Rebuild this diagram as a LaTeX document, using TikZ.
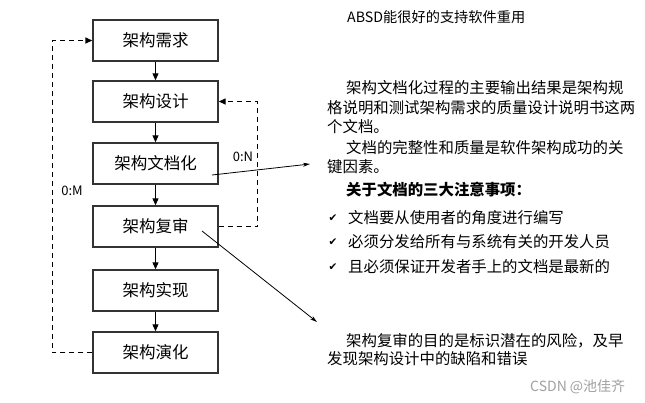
\documentclass[tikz,border=0pt]{standalone}
\usepackage{fontspec}
\setmainfont{Noto Sans CJK SC}
\newfontfamily\cjk{Noto Sans CJK SC}
\newfontfamily\symf{DejaVu Sans}
\usetikzlibrary{arrows.meta}
\definecolor{boxline}{HTML}{333333}
\definecolor{wm}{HTML}{A0A0A0}
\tikzset{
  stagebox/.style={draw=boxline, line width=1.4pt, minimum width=125pt, minimum height=41pt, inner sep=0pt, font=\cjk\fontsize{16.5}{18}\selectfont},
  flowarrow/.style={line width=1pt, -{Triangle[length=7pt,width=6pt]}},
  loopline/.style={line width=1.4pt, dash pattern=on 5pt off 4pt, -{Triangle[length=7pt,width=6pt]}},
  notearrow/.style={line width=0.8pt, -{Stealth[length=7pt,width=4pt]}},
  txt/.style={anchor=west, inner sep=0pt, font=\cjk\fontsize{15.4}{18}\selectfont},
  lbl/.style={inner sep=0pt, font=\cjk\fontsize{13}{15}\selectfont},
  chk/.style={inner sep=0pt, font=\symf\fontsize{10.5}{14}\selectfont}
}
\begin{document}
\begin{tikzpicture}[x=1pt,y=-1pt]
\useasboundingbox (0,0) rectangle (645,402);
% stages
\node[stagebox] (b1) at (155.5,40.5) {架构需求};
\node[stagebox] (b2) at (155.5,101.5) {架构设计};
\node[stagebox] (b3) at (155.5,163.5) {架构文档化};
\node[stagebox] (b4) at (155.5,226.5) {架构复审};
\node[stagebox] (b5) at (155.5,290.5) {架构实现};
\node[stagebox] (b6) at (155.5,352.5) {架构演化};
\draw[flowarrow] (b1) -- (b2);
\draw[flowarrow] (b2) -- (b3);
\draw[flowarrow] (b3) -- (b4);
\draw[flowarrow] (b4) -- (b5);
\draw[flowarrow] (b5) -- (b6);
% loops
\draw[loopline] (b6.west) -- ++(-40,0) |- (b1.west);
\draw[loopline] (b4.east) -- ++(39,0) |- (b2.east);
\node[lbl] (m) at (72,191) {0:M};
\node[lbl] (n) at (243,157) {0:N};
% title
\node[anchor=west, inner sep=0pt, font=\cjk\fontsize{14.2}{16}\selectfont] (title) at (347,17) {ABSD能很好的支持软件重用};
% paragraph 1
\node[txt] (p1a) at (346,88) {架构文档化过程的主要输出结果是架构规};
\node[txt] (p1b) at (327,108) {格说明和测试架构需求的质量设计说明书这两};
\node[txt] (p1c) at (327,127) {个文档。};
\node[txt] (p2a) at (346,148) {文档的完整性和质量是软件架构成功的关};
\node[txt] (p2b) at (327,167) {键因素。};
\node[txt, font=\cjk\bfseries\fontsize{15.4}{18}\selectfont] (p3) at (346,190) {关于文档的三大注意事项：};
\node[chk] (c1) at (333,218) {✔};
\node[chk] (c2) at (333,242) {✔};
\node[chk] (c3) at (333,267) {✔};
\node[txt] (t1) at (348,218) {文档要从使用者的角度进行编写};
\node[txt] (t2) at (348,242) {必须分发给所有与系统有关的开发人员};
\node[txt] (t3) at (348,267) {且必须保证开发者手上的文档是最新的};
\node[txt] (r1) at (346,341) {架构复审的目的是标识潜在的风险，及早};
\node[txt] (r2) at (327,359) {发现架构设计中的缺陷和错误};
\node[anchor=west, inner sep=0pt, text=wm, font=\cjk\fontsize{14}{16}\selectfont] (wmk) at (530,387) {CSDN @池佳齐};
% note arrows
\coordinate (s1) at (212,175);
\coordinate (e1) at (310,164);
\coordinate (s2) at (202,231);
\coordinate (e2) at (317,322);
\draw[notearrow] (s1) -- (e1);
\draw[notearrow] (s2) -- (e2);
\end{tikzpicture}
\end{document}
